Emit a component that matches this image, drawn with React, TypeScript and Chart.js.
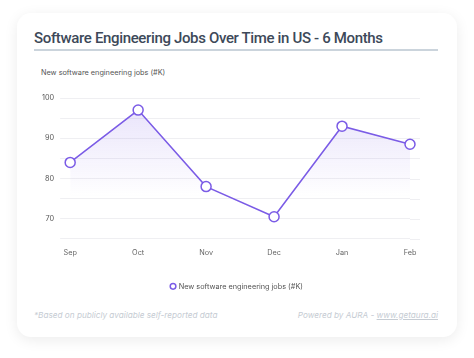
import React, { useEffect, useRef } from "react";
import { Chart, registerables } from "chart.js";

Chart.register(...registerables);

const months = ["Sep", "Oct", "Nov", "Dec", "Jan", "Feb"];
const jobsK = [84, 97, 78, 70.5, 93, 88.5];
const seriesLabel = "New software engineering jobs (#K)";
const yLabelTicks = [70, 80, 90, 100];

const LINE = "#7b5ce6";
const GRID = "#efeff2";

const gridExtend = {
  id: "gridExtend",
  beforeDatasetsDraw(chart: any) {
    const { ctx, chartArea, scales } = chart;
    const y = scales.y;
    ctx.save();
    ctx.strokeStyle = GRID;
    ctx.lineWidth = 1;
    y.ticks.forEach((t: any) => {
      const py = Math.round(y.getPixelForValue(t.value)) + 0.5;
      ctx.beginPath();
      ctx.moveTo(chartArea.right, py);
      ctx.lineTo(chartArea.right + 10, py);
      ctx.stroke();
    });
    ctx.restore();
  },
};

export default function App() {
  const ref = useRef<HTMLCanvasElement>(null);
  useEffect(() => {
    if (!ref.current) return;
    const chart = new Chart(ref.current, {
      type: "line",
      data: {
        labels: months,
        datasets: [
          {
            label: seriesLabel,
            data: jobsK,
            borderColor: LINE,
            borderWidth: 1.5,
            pointRadius: 5,
            pointBorderWidth: 1.5,
            pointBackgroundColor: "#ffffff",
            pointBorderColor: LINE,
            tension: 0,
            fill: "origin",
            backgroundColor: (c: any) => {
              const { ctx, chartArea } = c.chart;
              if (!chartArea) return "rgba(123,92,230,0.1)";
              const g = ctx.createLinearGradient(0, chartArea.top, 0, chartArea.top + chartArea.height * 0.7);
              g.addColorStop(0, "rgba(123,92,230,0.18)");
              g.addColorStop(1, "rgba(123,92,230,0)");
              return g;
            },
          },
        ],
      },
      options: {
        animation: false,
        responsive: false,
        maintainAspectRatio: false,
        layout: { padding: { left: 2, right: 0, top: 38, bottom: 0 } },
        plugins: {
          title: { display: false },
          legend: {
            position: "bottom",
            labels: {
              usePointStyle: true,
              pointStyle: "circle",
              boxWidth: 4,
              boxHeight: 4,
              color: "#555",
              font: { family: "Inter", size: 7.3 },
              padding: 10,
            },
          },
          tooltip: { enabled: false },
        },
        scales: {
          x: {
            grid: { display: false, drawTicks: false },
            border: { display: false },
            ticks: { color: "#666", font: { family: "Inter", size: 7.3 }, padding: 9 },
            afterFit: (s: any) => {
              s.height += 7;
            },
          },
          y: {
            min: 65,
            max: 100,
            border: { display: false },
            grid: { color: GRID, tickLength: 10, drawTicks: true },
            ticks: {
              stepSize: 5,
              padding: 6,
              color: "#555",
              font: { family: "Inter", size: 7.3 },
              callback: (v: any) => (yLabelTicks.includes(Number(v)) ? String(v) : ""),
            },
          },
          yRight: {
            type: "linear",
            position: "right",
            display: true,
            min: 65,
            max: 100,
            grid: { display: false, drawTicks: false },
            border: { display: false },
            ticks: { display: false },
            afterFit: (s: any) => {
              s.width = 28;
            },
          },
        },
      },
      plugins: [gridExtend],
    } as any);
    return () => chart.destroy();
  }, []);

  return (
    <div style={{ position: "fixed", left: 0, top: 0, width: 474, height: 358, background: "#fff", fontFamily: "Inter, sans-serif" }}>
      <div
        style={{
          position: "absolute",
          left: 17,
          top: 13,
          width: 440,
          height: 324,
          borderRadius: 14,
          background: "#fff",
          boxShadow: "0 3px 14px rgba(0,0,0,0.08)",
        }}
      />
      <div
        style={{
          position: "absolute",
          left: 34,
          top: 28,
          fontSize: 15,
          fontFamily: "Roboto, sans-serif",
          fontWeight: 500,
          letterSpacing: "-0.35px",
          color: "#3d4959",
          whiteSpace: "nowrap",
          lineHeight: "20px",
        }}
      >
        Software Engineering Jobs Over Time in US - 6 Months
      </div>
      <div style={{ position: "absolute", left: 34, top: 49, width: 404, height: 2, background: "#cbd4dc" }} />
      <div
        style={{
          position: "absolute",
          left: 41,
          top: 68,
          fontSize: 7.3,
          color: "#555",
          whiteSpace: "nowrap",
          lineHeight: "10px",
        }}
      >
        {seriesLabel}
      </div>
      <canvas ref={ref} width={404} height={240} style={{ position: "absolute", left: 34, top: 60, width: 404, height: 240 }} />
      <div
        style={{
          position: "absolute",
          left: 34,
          top: 310,
          fontSize: 8.2,
          fontStyle: "italic",
          color: "#c6ccd3",
          whiteSpace: "nowrap",
          lineHeight: "10px",
        }}
      >
        *Based on publicly available self-reported data
      </div>
      <div
        style={{
          position: "absolute",
          right: 474 - 438,
          top: 310,
          fontSize: 8.2,
          fontStyle: "italic",
          color: "#c6ccd3",
          whiteSpace: "nowrap",
          lineHeight: "10px",
        }}
      >
        Powered by AURA - <span style={{ textDecoration: "underline" }}>www.getaura.ai</span>
      </div>
    </div>
  );
}
